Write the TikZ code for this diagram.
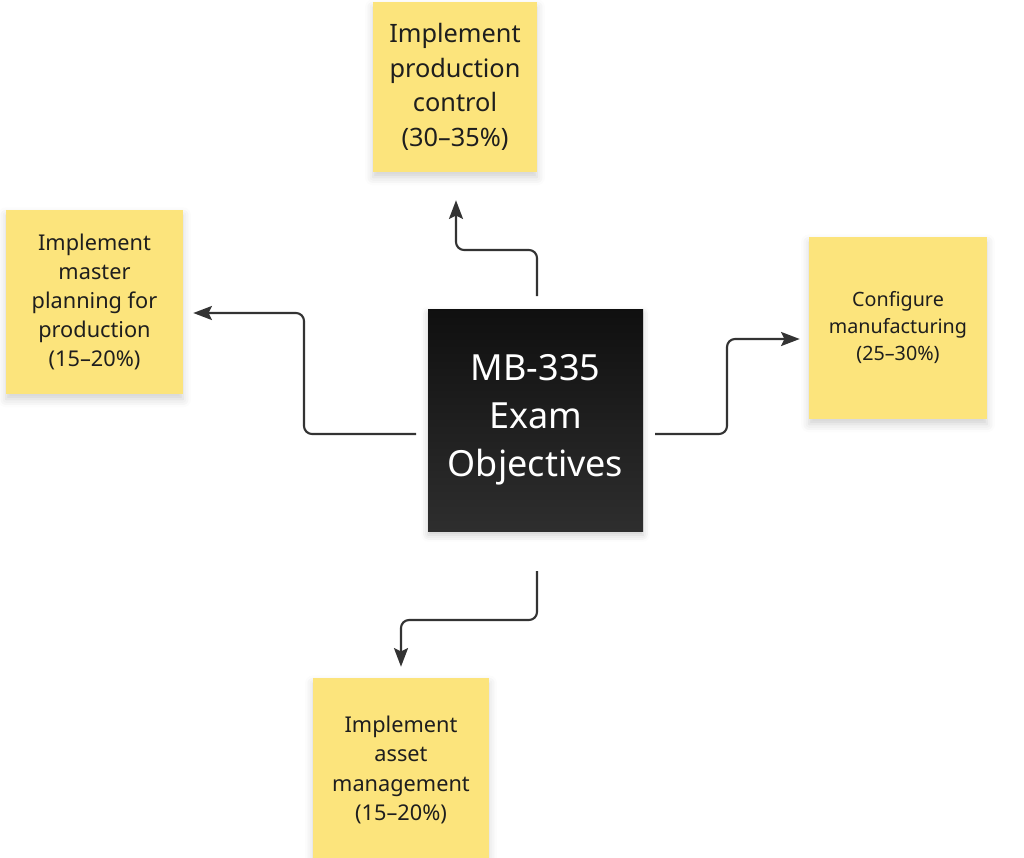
\documentclass[tikz,border=0pt]{standalone}
\usepackage{fontspec}
\setmainfont{Noto Sans}
\usetikzlibrary{arrows.meta,calc,shadows.blur}
\definecolor{sticky}{HTML}{FCE47C}
\definecolor{conn}{HTML}{333333}
\definecolor{ink}{HTML}{1E1E1E}
\tikzset{
  note/.style={fill=sticky, draw=none, align=center, inner sep=0pt, text=ink,
    blur shadow={shadow xshift=0pt, shadow yshift=-4pt, shadow blur radius=6pt, shadow opacity=18}},
  core/.style={top color=black!94, bottom color=black!82, draw=none, align=center, inner sep=0pt, text=white,
    blur shadow={shadow xshift=0pt, shadow yshift=-3pt, shadow blur radius=5pt, shadow opacity=20}},
  link/.style={draw=conn, line width=1.6pt, rounded corners=6pt, -{Stealth[length=14pt,width=10.5pt,inset=2.5pt]}},
}
\begin{document}
\begin{tikzpicture}[x=0.75pt,y=-0.75pt]
\useasboundingbox (0,0) rectangle (1024,857);
% nodes
\node[note, minimum width=164*0.75pt, minimum height=170*0.75pt,
  font=\fontsize{19pt}{26pt}\selectfont] (T) at (455,87)
  {Implement\\production\\control\\(30–35\%)};
\node[note, minimum width=177*0.75pt, minimum height=184*0.75pt,
  font=\fontsize{16.3pt}{21.75pt}\selectfont] (L) at (94.5,302)
  {Implement\\master\\planning for\\production\\(15–20\%)};
\node[note, minimum width=178*0.75pt, minimum height=182*0.75pt,
  font=\fontsize{14.8pt}{20.25pt}\selectfont] (R) at (898,328)
  {Configure\\manufacturing\\(25–30\%)};
\node[note, minimum width=176*0.75pt, minimum height=184*0.75pt,
  font=\fontsize{16.3pt}{22pt}\selectfont] (B) at (401,770)
  {Implement\\asset\\management\\(15–20\%)};
\node[core, minimum width=215*0.75pt, minimum height=222*0.75pt,
  font=\fontsize{27pt}{36pt}\selectfont] (C) at (535.5,420)
  {MB-335\\Exam\\Objectives};
% connector start points
\coordinate (cT) at (537,296);
\coordinate (cL) at (416,434);
\coordinate (cR) at (655,434);
\coordinate (cB) at (537,571);
% connectors
\draw[link] (cT) -- (537,250) -- (456,250) -- ($(T.south)+(1,28)$);
\draw[link] (cL) -- (304,434) -- (304,313) -- ($(L.east)+(10,11)$);
\draw[link] (cR) -- (727,434) -- (727,339) -- ($(R.west)+(-9,11)$);
\draw[link] (cB) -- (537,620) -- (401,620) -- ($(B.north)+(0,-11)$);
\end{tikzpicture}
\end{document}
